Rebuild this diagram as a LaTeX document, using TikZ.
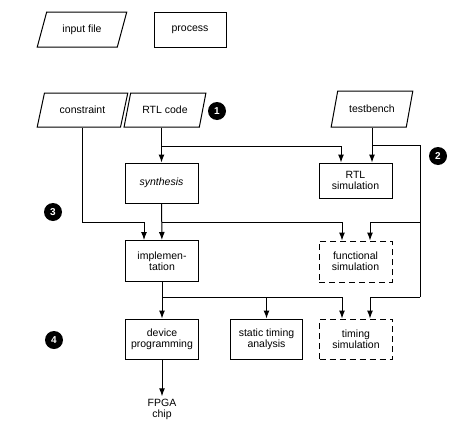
\documentclass[tikz,border=0pt]{standalone}
\usepackage{fontspec}
\setmainfont{Liberation Sans}
\usetikzlibrary{shapes.geometric,arrows.meta}
\tikzset{
  iofile/.style={draw, trapezium, trapezium left angle=65, trapezium right angle=115,
    trapezium stretches=true, minimum width=90pt, minimum height=35pt, inner sep=1pt},
  proc/.style={draw, minimum width=73pt, minimum height=40pt, align=center, inner sep=1pt},
  simproc/.style={proc, dash pattern=on 6pt off 4pt},
  marker/.style={circle, fill=black, text=white, font=\bfseries\fontsize{10}{10}\selectfont,
    inner sep=0pt, minimum size=18pt},
}
\begin{document}
\begin{tikzpicture}[x=1pt, y=-1pt, line width=1pt, >={Latex[length=8pt,width=6pt]},
  font=\fontsize{10.5}{11}\selectfont]
	\useasboundingbox (0,0) rectangle (474,434);
	% legend
	\node[iofile] (infile) at (82,29.5) {input file};
	\node[proc, minimum width=72pt, minimum height=35pt] (process) at (190,29.5) {process};
	% inputs
	\node[iofile, minimum width=91pt, minimum height=34pt] (constraint) at (82.5,110) {constraint};
	\node[iofile, minimum width=82pt, minimum height=34pt] (rtl) at (165,110) {RTL code};
	\node[iofile, minimum width=82pt, minimum height=36pt] (tb) at (372,109) {testbench};
	% steps
	\node[proc] (synth) at (161.5,183) {\itshape synthesis};
	\node[proc, minimum height=35pt] (rtlsim) at (355.5,180.5) {RTL\\simulation};
	\node[proc, minimum height=41pt] (impl) at (162,261) {implemen-\\tation};
	\node[simproc, minimum height=41pt] (funcsim) at (355.5,261.5) {functional\\simulation};
	\node[proc] (device) at (162,339) {device\\programming};
	\node[proc, minimum width=72pt] (sta) at (266.5,339) {static timing\\analysis};
	\node[simproc] (timsim) at (356,339) {timing\\simulation};
	\node[align=center, inner sep=2pt] (fpga) at (162,409) {FPGA\\chip};
	% step markers
	\node[marker] (m1) at (217,111) {1};
	\node[marker] (m2) at (438,156) {2};
	\node[marker] (m3) at (53,212) {3};
	\node[marker] (m4) at (54,340) {4};
	% split points
	\coordinate (rtlsplit) at (161.5,146);
	\coordinate (tbsplit) at (372,145);
	\coordinate (tbright) at (420,145);
	\coordinate (synthsplit) at (161.5,222);
	\coordinate (implsplit) at (162,297);
	% connectors
	\draw[->] (rtl.south -| synth) -- (synth.north);
	\draw[->] (rtlsplit) -| ([xshift=-14.5pt]rtlsim.north);
	\draw[->] (tb.south) -- (tb.south |- rtlsim.north);
	\draw (tbsplit) -- (tbright) -- (tbright |- implsplit);
	\draw[->] (tbright |- implsplit) -| ([xshift=14pt]timsim.north);
	\draw[->] (tbright |- synthsplit) -| ([xshift=14.5pt]funcsim.north);
	\draw[->] (synth) -- (impl);
	\draw[->] (synthsplit) -| ([xshift=-13.5pt]funcsim.north);
	\draw[->] (constraint.south) |- ([xshift=-18pt]impl.north |- synthsplit) -- ([xshift=-18pt]impl.north);
	\draw[->] (impl) -- (device);
	\draw[->] (implsplit) -| (sta.north);
	\draw[->] (sta.north |- implsplit) -| ([xshift=-14pt]timsim.north);
	\draw[->] (device) -- (fpga);
\end{tikzpicture}
\end{document}
